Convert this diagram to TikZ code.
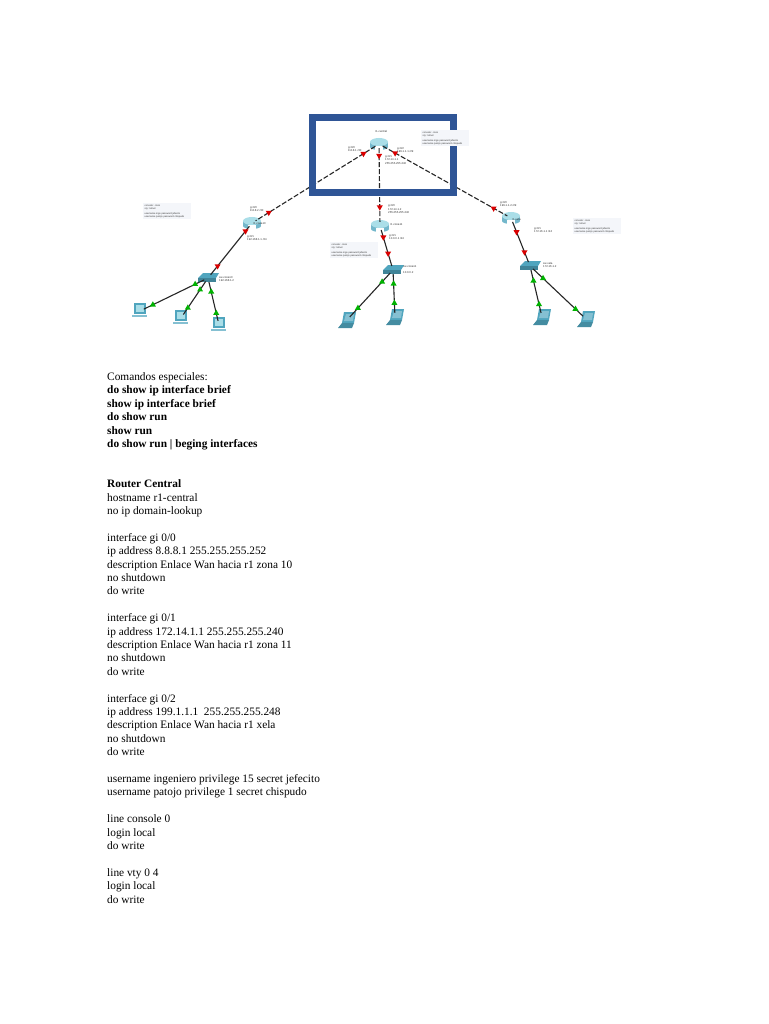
\documentclass[tikz,border=0pt]{standalone}
\usepackage{fontspec}
\setmainfont{Liberation Serif}
\setsansfont{Liberation Sans}
\usetikzlibrary{shapes,arrows,positioning,fit,backgrounds}
\definecolor{framecol}{RGB}{47,85,150}
\definecolor{iconteal}{RGB}{80,165,190}
\definecolor{iconpale}{RGB}{170,222,232}
\definecolor{notecol}{RGB}{244,246,250}
\tikzset{
  routericon/.pic={
    \fill[iconteal!80] (-9,-2) rectangle (9,3);
    \fill[iconteal!80] (0,3) ellipse (9 and 3);
    \fill[iconpale] (0,-2) ellipse (9 and 4);
    \fill[white] (-4,2) rectangle (4,6);
  },
  switchicon/.pic={
    \fill[iconteal] (-10,0) -- (-5,-5) -- (11,-5) -- (8,0) -- cycle;
    \fill[iconteal!80!black] (-10,0) -- (8,0) -- (8,4) -- (-10,4) -- cycle;
  },
  pcicon/.pic={
    \fill[iconteal] (-6,-8) rectangle (6,3);
    \fill[iconpale] (-4,-6) rectangle (4,1);
    \fill[iconteal!70] (-8,4) rectangle (7,6);
  },
  laptopicon/.pic={
    \fill[iconteal] (-3,-8) -- (9,-8) -- (7,3) -- (-5,3) -- cycle;
    \fill[iconteal!70] (-1,-6) -- (7,-6) -- (6,1) -- (-3,1) -- cycle;
    \fill[iconteal!85!black] (-5,3) -- (7,3) -- (5,8) -- (-9,8) -- cycle;
  }
}
\begin{document}
\begin{tikzpicture}[x=1pt, y=-1pt]
  \tikzstyle{hub} = [circle, inner sep=0pt, minimum size=8pt]
  \tikzstyle{wan} = [line width=1.1pt, dash pattern=on 5pt off 2pt, black!85]
  \tikzstyle{lan} = [line width=1.1pt, black!85]
  \tikzstyle{reddown} = [regular polygon, regular polygon sides=3, shape border rotate=180, fill=red!85!black, inner sep=0pt, minimum size=7pt]
  \tikzstyle{greenup} = [regular polygon, regular polygon sides=3, fill=green!70!black, inner sep=0pt, minimum size=7pt]
  \tikzstyle{tinylabel} = [font=\sffamily\fontsize{2.8}{3.2}\selectfont, align=left, inner sep=0pt, anchor=west, text=black!80]
  \tikzstyle{notebox} = [tinylabel, font=\sffamily\fontsize{2.4}{3}\selectfont, fill=notecol, inner sep=1.5pt, text width=45pt]

  \useasboundingbox [fill=white] (0,0) rectangle (768,1024);

  % devices
  \foreach \xx/\yy in {379/144, 252/223, 380/226, 511/218}
    \pic at (\xx,\yy) {routericon};
  \foreach \xx/\yy in {208/278, 393/270, 530/266}
    \pic at (\xx,\yy) {switchicon};
  \foreach \xx/\yy in {140/311, 181/318, 219/325}
    \pic at (\xx,\yy) {pcicon};
  \foreach \xx/\yy in {347/320, 395/317, 542/317, 586/319}
    \pic at (\xx,\yy) {laptopicon};

  \node [hub] (r0) at (379,144) {};
  \node [hub] (r1) at (252,223) {};
  \node [hub] (r2) at (380,226) {};
  \node [hub] (r3) at (511,218) {};
  \node [hub] (sw1) at (208,278) {};
  \node [hub] (sw2) at (393,270) {};
  \node [hub] (sw3) at (530,266) {};
  \node [hub] (pc1) at (140,311) {};
  \node [hub] (pc2) at (181,318) {};
  \node [hub] (pc3) at (219,325) {};
  \node [hub] (lap1) at (347,320) {};
  \node [hub] (lap2) at (395,317) {};
  \node [hub] (lap3) at (542,317) {};
  \node [hub] (lap4) at (586,319) {};

  % links
  \draw [wan] (r0) -- node[pos=.1, reddown] {} node[pos=.89, reddown] {} (r1);
  \draw [wan] (r0) -- node[pos=.1, reddown] {} node[pos=.8, reddown] {} (r2);
  \draw [wan] (r0) -- node[pos=.1, reddown] {} node[pos=.89, reddown] {} (r3);
  \draw [lan] (r1) -- node[pos=.1, reddown] {} node[pos=.82, reddown] {} (sw1);
  \draw [lan] (r2) -- node[pos=.2, reddown] {} node[pos=.65, reddown] {} (sw2);
  \draw [lan] (r3) -- node[pos=.25, reddown] {} node[pos=.75, reddown] {} (sw3);
  \draw [lan] (sw1) -- node[pos=.15, greenup] {} node[pos=.85, greenup] {} (pc1);
  \draw [lan] (sw1) -- node[pos=.25, greenup] {} node[pos=.8, greenup] {} (pc2);
  \draw [lan] (sw1) -- node[pos=.25, greenup] {} node[pos=.8, greenup] {} (pc3);
  \draw [lan] (sw2) -- node[pos=.2, greenup] {} node[pos=.8, greenup] {} (lap1);
  \draw [lan] (sw2) -- node[pos=.25, greenup] {} node[pos=.75, greenup] {} (lap2);
  \draw [lan] (sw3) -- node[pos=.25, greenup] {} node[pos=.8, greenup] {} (lap3);
  \draw [lan] (sw3) -- node[pos=.2, greenup] {} node[pos=.85, greenup] {} (lap4);

  % frame round the central router
  \node [draw=framecol, line width=7pt, minimum width=141pt, minimum height=75pt, inner sep=0pt] (frame) at (383,155) {};

  % device labels
  \node [tinylabel] (lblr0) at (375,132) {r1-central};
  \node [tinylabel] (lblr0a) at (348,149) {gi 0/0\\8.8.8.1 /30};
  \node [tinylabel] (lblr0c) at (397,150) {gi 0/2\\199.1.1.1 /29};
  \node [tinylabel] (lblr0b) at (385,160) {gi 0/1\\172.14.1.1\\255.255.255.240};
  \node [tinylabel] (lblr1) at (253,224) {r1 zona10};
  \node [tinylabel] (lblr1a) at (250,209) {gi 0/0\\8.8.8.2 /30};
  \node [tinylabel] (lblr1b) at (247,238) {gi 0/1\\192.168.1.1 /24};
  \node [tinylabel] (lblsw1) at (219,279) {sw zona10\\192.168.1.2};
  \node [tinylabel] (lblr2a) at (388,209) {gi 0/0\\172.14.1.2\\255.255.255.240};
  \node [tinylabel] (lblr2) at (390,225) {r1 zona11};
  \node [tinylabel] (lblr2b) at (389,237) {gi 0/1\\10.0.0.1 /24};
  \node [tinylabel] (lblsw2) at (403,267) {sw zona11};
  \node [tinylabel] (lblsw2b) at (403,273) {10.0.0.2};
  \node [tinylabel] (lblr3a) at (500,204) {gi 0/0\\199.1.1.2 /29};
  \node [tinylabel] (lblr3) at (512,219) {r1 xela};
  \node [tinylabel] (lblr3b) at (534,230) {gi 0/1\\172.16.1.1 /24};
  \node [tinylabel] (lblsw3) at (543,265) {sw xela\\172.16.1.2};

  % notes beside the routers
  \foreach \name/\xx/\yy in {note0/444/138, note1/166/211, note2/353/250, note3/596/226}
    \node [notebox] (\name) at (\xx-23,\yy) {console: cisco\\vty: telnet\\[2pt]username ingo password jefecito\\username patojo password chispudo};

  % commands
  \node [anchor=north west, inner sep=0pt, align=left, font=\fontsize{11.35}{13.4}\selectfont] (commands) at (107,372.5) {%
    Comandos especiales:\\
    \textbf{do show ip interface brief}\\
    \textbf{show ip interface brief}\\
    \textbf{do show run}\\
    \textbf{show run}\\
    \textbf{do show run | beging interfaces}\\[26.8pt]
    \textbf{Router Central}\\
    hostname r1-central\\
    no ip domain-lookup\\[13.4pt]
    interface gi 0/0\\
    ip address 8.8.8.1 255.255.255.252\\
    description Enlace Wan hacia r1 zona 10\\
    no shutdown\\
    do write\\[13.4pt]
    interface gi 0/1\\
    ip address 172.14.1.1 255.255.255.240\\
    description Enlace Wan hacia r1 zona 11\\
    no shutdown\\
    do write\\[13.4pt]
    interface gi 0/2\\
    ip address 199.1.1.1~~255.255.255.248\\
    description Enlace Wan hacia r1 xela\\
    no shutdown\\
    do write\\[13.4pt]
    username ingeniero privilege 15 secret jefecito\\
    username patojo privilege 1 secret chispudo\\[13.4pt]
    line console 0\\
    login local\\
    do write\\[13.4pt]
    line vty 0 4\\
    login local\\
    do write};
\end{tikzpicture}
\end{document}
